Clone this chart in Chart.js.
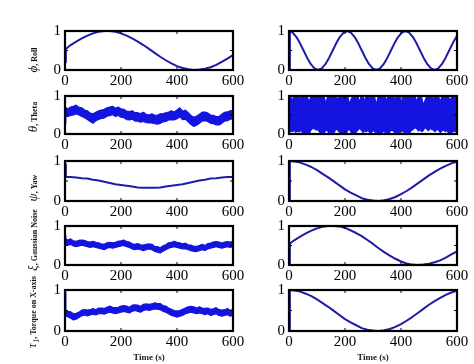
<!DOCTYPE html>
<html><head><meta charset="utf-8">
<script src="https://cdn.jsdelivr.net/npm/chart.js@4"></script>
<style>
html,body{margin:0;padding:0;background:#fff;}
#wrap{position:relative;width:474px;height:364px;overflow:hidden;background:#fff;}
.cell{position:absolute;}
.ylab{position:absolute;white-space:nowrap;transform:translate(-50%,-50%) rotate(-90deg);font-family:"Liberation Serif",serif;color:#111;line-height:1;}
.ylab .g{font-style:italic;font-size:13px;}
.ylab .t{font-size:8px;font-weight:bold;}
</style></head><body><div id="wrap"></div>
<script>
// ---- ticks ----
const xTicks = [0, 200, 400, 600];
const yTicks = [0, 0.5, 1];

// ---- sample times ----
const t20 = Array.from({length: 31}, (_, i) => i * 20);
const t13 = Array.from({length: 47}, (_, i) => i * 13).concat([600]);
const t10 = Array.from({length: 61}, (_, i) => i * 10);
const t6 = Array.from({length: 101}, (_, i) => i * 6);
const spikeTime = 3;

// ---- left column ----
const rollStart = 0.2;
const roll = [0.54,0.64,0.73,0.81,0.88,0.94,0.98,1.0,1.0,0.98,0.94,0.88,0.81,0.73,0.64,0.54,0.44,0.34,0.25,0.17,0.10,0.05,0.02,0.0,0.01,0.03,0.07,0.13,0.21,0.29,0.38];

const thetaStart = 0.28;
const thetaHi = [0.72,0.66,0.71,0.73,0.76,0.70,0.69,0.63,0.61,0.55,
  0.53,0.57,0.61,0.63,0.65,0.69,0.71,0.73,0.68,0.71,
  0.66,0.65,0.60,0.59,0.61,0.56,0.56,0.54,0.57,0.52,
  0.50,0.53,0.50,0.49,0.53,0.54,0.56,0.58,0.61,0.58,
  0.63,0.69,0.60,0.63,0.56,0.49,0.44,0.47,0.52,0.57,
  0.58,0.55,0.50,0.49,0.46,0.46,0.52,0.57,0.58,0.61,0.62];
const thetaLo = [0.47,0.46,0.49,0.50,0.53,0.50,0.46,0.43,0.38,0.33,
  0.28,0.35,0.38,0.41,0.42,0.47,0.48,0.51,0.46,0.49,
  0.44,0.43,0.38,0.37,0.39,0.34,0.34,0.31,0.33,0.30,
  0.29,0.29,0.27,0.26,0.28,0.32,0.33,0.37,0.38,0.37,
  0.40,0.45,0.38,0.39,0.32,0.25,0.20,0.23,0.28,0.34,
  0.35,0.33,0.28,0.27,0.24,0.24,0.28,0.34,0.35,0.39,0.40];

const yawStart = 0.92;
const yawL = [0.60,0.60,0.59,0.57,0.56,0.53,0.51,0.48,0.45,0.42,0.40,0.38,0.36,0.34,0.33,0.33,0.33,0.34,0.36,0.38,0.40,0.42,0.45,0.48,0.51,0.53,0.56,0.57,0.59,0.60,0.60];

const gaussStart = 0.76;
const gaussHi = [0.67,0.64,0.67,0.62,0.61,0.63,0.64,0.63,0.60,0.59,
  0.61,0.58,0.57,0.54,0.53,0.57,0.58,0.57,0.58,0.61,
  0.62,0.64,0.60,0.59,0.54,0.53,0.55,0.52,0.51,0.53,
  0.54,0.53,0.48,0.47,0.44,0.49,0.52,0.57,0.58,0.61,
  0.58,0.57,0.54,0.56,0.52,0.51,0.48,0.48,0.50,0.53,
  0.50,0.55,0.56,0.59,0.60,0.59,0.56,0.59,0.60,0.59,0.61];
const gaussLo = [0.51,0.51,0.53,0.49,0.47,0.49,0.51,0.49,0.47,0.45,
  0.47,0.45,0.43,0.41,0.39,0.43,0.45,0.43,0.45,0.47,
  0.49,0.50,0.47,0.45,0.41,0.39,0.41,0.39,0.37,0.39,
  0.41,0.39,0.35,0.33,0.31,0.35,0.39,0.43,0.45,0.47,
  0.45,0.43,0.41,0.42,0.39,0.37,0.35,0.34,0.37,0.39,
  0.37,0.41,0.43,0.45,0.47,0.45,0.43,0.45,0.47,0.45,0.47];

const torqueStart = 0.95;
const torqueHi = [0.51,0.48,0.47,0.42,0.43,0.46,0.51,0.52,0.51,0.52,
  0.55,0.52,0.56,0.56,0.55,0.58,0.61,0.58,0.57,0.58,
  0.61,0.62,0.61,0.58,0.63,0.64,0.63,0.60,0.65,0.66,
  0.65,0.66,0.69,0.67,0.67,0.62,0.61,0.56,0.53,0.50,
  0.49,0.50,0.53,0.56,0.59,0.60,0.59,0.56,0.59,0.56,
  0.55,0.56,0.53,0.54,0.57,0.52,0.51,0.52,0.55,0.50,0.53];
const torqueLo = [0.36,0.35,0.31,0.27,0.29,0.33,0.37,0.39,0.37,0.39,
  0.41,0.39,0.42,0.43,0.41,0.44,0.46,0.44,0.42,0.44,
  0.46,0.48,0.46,0.44,0.48,0.50,0.48,0.46,0.50,0.52,
  0.50,0.52,0.54,0.53,0.52,0.48,0.46,0.42,0.38,0.36,
  0.34,0.36,0.38,0.42,0.44,0.46,0.44,0.42,0.44,0.42,
  0.40,0.42,0.38,0.40,0.42,0.38,0.36,0.38,0.40,0.36,0.38];

// ---- right column ----
const wave1Start = 0.0;
const wave1 = [1,0.96,0.85,0.69,0.5,0.31,0.15,0.04,0,0.04,0.15,0.31,0.5,0.69,0.85,0.96,
  1,0.96,0.85,0.69,0.5,0.31,0.15,0.04,0,0.04,0.15,0.31,0.5,0.69,0.85,0.96,
  1,0.96,0.85,0.69,0.5,0.31,0.15,0.04,0,0.04,0.15,0.31,0.5,0.69,0.85,0.87];

const noiseHi = [1,0.98,0.88,1,0.97,1,0.92,1,0.99,1,
  1,0.96,0.84,1,0.98,1,1,0.94,1,0.99,
  1,0.97,0.8,1,1,0.95,1,0.98,1,0.9,
  1,1,0.96,1,0.99,1,0.78,0.92,1,0.97,
  1,1,0.84,1,0.98,0.88,1,1,0.93,1,
  1,0.97,0.76,1,0.99,1,0.96,1,0.88,1,
  1,0.98,1,0.9,1,1,0.95,0.84,1,1,
  0.97,1,0.92,1,1,0.98,0.86,1,1,0.96,
  0.76,0.88,1,1,0.97,1,0.92,1,0.99,1,
  0.84,1,1,0.95,1,0.97,0.88,1,1,0.98,1];
const noiseLo = [0.02,0.08,0.06,0.1,0.04,0.08,0.05,0.1,0.03,0.02,
  0,0.04,0,0.1,0.14,0.15,0.1,0.12,0.06,0.02,
  0,0.03,0.1,0.08,0,0.02,0,0.05,0.13,0.1,
  0.04,0,0.02,0.06,0,0.1,0.12,0.04,0.02,0,
  0.05,0.1,0.15,0.1,0.04,0.08,0.06,0.1,0.04,0.02,
  0.1,0.06,0.03,0,0.02,0,0.08,0.05,0.02,0,
  0.06,0.1,0.08,0.04,0,0.02,0.05,0.1,0.06,0.03,
  0.02,0,0.04,0.1,0.12,0.17,0.14,0.08,0.11,0.06,
  0.1,0.17,0.13,0.08,0.15,0.12,0.1,0.06,0.12,0.1,
  0.04,0.08,0.11,0.06,0.1,0.02,0,0.04,0.08,0.06,0.04];

const yawRStart = 0.0;
const yawR = [1.0,0.99,0.96,0.91,0.85,0.77,0.68,0.59,0.49,0.39,0.29,0.21,0.14,0.07,0.03,0.01,0.0,0.02,0.05,0.10,0.17,0.25,0.34,0.44,0.54,0.64,0.73,0.81,0.88,0.94,0.98];

const wave4Start = 0.0;
const wave4 = [0.55,0.64,0.73,0.81,0.88,0.94,0.98,1.0,1.0,0.99,0.95,0.89,0.82,0.74,0.64,0.54,0.43,0.33,0.24,0.16,0.09,0.04,0.01,0.0,0.01,0.03,0.07,0.12,0.19,0.27,0.35];

const wave5Start = 0.0;
const wave5 = [1.0,0.99,0.96,0.91,0.85,0.77,0.68,0.59,0.49,0.39,0.29,0.21,0.14,0.07,0.03,0.01,0.0,0.02,0.05,0.10,0.17,0.25,0.34,0.44,0.54,0.64,0.73,0.81,0.88,0.94,0.98];

const DARK = '#1c1ca6';
const BRIGHT = '#1414e0';

// ---- helpers to assemble datasets from arrays ----
function smooth(times, vals, start) {
  const pts = [{x: 0, y: start}];
  vals.forEach((v, i) => pts.push({x: i === 0 ? spikeTime : times[i], y: v}));
  return [{data: pts, borderColor: DARK, borderWidth: 2, pointRadius: 0, tension: 0, borderJoinStyle: 'round', fill: false}];
}
function band(times, hi, lo, start) {
  const hiPts = [], loPts = [];
  const hasStart = start !== null;
  if (hasStart) {
    hiPts.push({x: 0, y: Math.max(start, hi[0])});
    loPts.push({x: 0, y: Math.min(start, lo[0])});
  }
  hi.forEach((v, i) => {
    const x = (i === 0 && hasStart) ? spikeTime : times[i];
    hiPts.push({x, y: v});
    loPts.push({x, y: lo[i]});
  });
  const common = {borderColor: BRIGHT, borderWidth: 1.2, pointRadius: 0, tension: 0,
    borderJoinStyle: 'bevel', backgroundColor: BRIGHT};
  return [
    Object.assign({data: hiPts, fill: '+1'}, common),
    Object.assign({data: loPts, fill: false}, common)
  ];
}

const framePlugin = {
  id: 'frame',
  afterDatasetsDraw(chart) {
    const {ctx, chartArea: a, scales: {x, y}} = chart;
    ctx.save();
    ctx.strokeStyle = '#000';
    ctx.lineWidth = 1;
    ctx.beginPath();
    xTicks.forEach(v => {
      const px = x.getPixelForValue(v);
      ctx.moveTo(px, a.bottom); ctx.lineTo(px, a.bottom - 3);
      ctx.moveTo(px, a.top); ctx.lineTo(px, a.top + 3);
    });
    yTicks.forEach(v => {
      const py = y.getPixelForValue(v);
      ctx.moveTo(a.left, py); ctx.lineTo(a.left + 3, py);
      ctx.moveTo(a.right, py); ctx.lineTo(a.right - 3, py);
    });
    ctx.stroke();
    ctx.lineWidth = 2.2;
    ctx.strokeRect(a.left, a.top, a.right - a.left, a.bottom - a.top);
    ctx.restore();
  }
};

const cols = [
  {left: 0, width: 250, axisLeft: 65, axisRight: 233},
  {left: 250, width: 224, axisLeft: 289, axisRight: 457}
];
const rows = [[28, 70], [93, 134], [158, 201], [223, 265], [287, 331]];
const wrap = document.getElementById('wrap');
const FONT = '"Liberation Serif", "Times New Roman", serif';

function build(col, row, datasets) {
  const c = cols[col];
  const [top, bot] = rows[row];
  const isBottom = row === 4;
  const cy = top - 10;
  const h = isBottom ? 364 - cy : bot + 22 - cy;
  const div = document.createElement('div');
  div.className = 'cell';
  div.style.left = c.left + 'px';
  div.style.top = cy + 'px';
  div.style.width = c.width + 'px';
  div.style.height = h + 'px';
  const cv = document.createElement('canvas');
  cv.width = c.width; cv.height = h;
  cv.style.width = c.width + 'px'; cv.style.height = h + 'px';
  div.appendChild(cv);
  wrap.appendChild(div);
  new Chart(cv, {
    type: 'line',
    data: {datasets},
    options: {
      responsive: false, animation: false, devicePixelRatio: 1,
      layout: {padding: {top: 10, right: (c.left + c.width) - c.axisRight, left: 0, bottom: 0}},
      plugins: {legend: {display: false}, tooltip: {enabled: false}, filler: {propagate: false}},
      scales: {
        x: {
          type: 'linear', min: 0, max: 600,
          afterBuildTicks: s => { s.ticks = xTicks.map(v => ({value: v})); },
          ticks: {font: {family: FONT, size: 15}, color: '#000', padding: 2, maxRotation: 0, autoSkip: false,
                  callback: v => String(v)},
          grid: {display: false, drawTicks: false}, border: {display: false},
          title: isBottom ? {display: true, text: 'Time (s)', font: {family: FONT, size: 9, weight: 'bold'}, color: '#222', padding: {top: 0, bottom: 1}} : {display: false},
          afterFit: s => { s.height = h - (bot - cy); }
        },
        y: {
          min: 0, max: 1,
          afterBuildTicks: s => { s.ticks = yTicks.map(v => ({value: v})); },
          ticks: {font: {family: FONT, size: 15}, color: '#000', padding: 4, callback: v => String(v)},
          grid: {display: false, drawTicks: false}, border: {display: false},
          afterFit: s => { s.width = c.axisLeft - c.left; }
        }
      }
    },
    plugins: [framePlugin]
  });
}

build(0, 0, smooth(t20, roll, rollStart));
build(0, 1, band(t10, thetaHi, thetaLo, thetaStart));
build(0, 2, smooth(t20, yawL, yawStart));
build(0, 3, band(t10, gaussHi, gaussLo, gaussStart));
build(0, 4, band(t10, torqueHi, torqueLo, torqueStart));

build(1, 0, smooth(t13, wave1, wave1Start));
build(1, 1, band(t6, noiseHi, noiseLo, null));
build(1, 2, smooth(t20, yawR, yawRStart));
build(1, 3, smooth(t20, wave4, wave4Start));
build(1, 4, smooth(t20, wave5, wave5Start));

// ---- y-axis titles (left column) ----
const yTitles = [
  {g: 'ϕ', t: ', Roll', cx: 32, cy: 60},
  {g: 'θ', t: ', Theta', cx: 32, cy: 117},
  {g: 'ψ', t: ', Yaw', cx: 32, cy: 188},
  {g: 'ξ', t: ', Gaussian Noise', cx: 32, cy: 240},
  {g: 'τ₁', t: ', Torque on X-axis', cx: 31, cy: 312}
];
yTitles.forEach(o => {
  const d = document.createElement('div');
  d.className = 'ylab';
  d.style.left = o.cx + 'px';
  d.style.top = o.cy + 'px';
  d.innerHTML = '<span class="g">' + o.g + '</span><span class="t">' + o.t + '</span>';
  wrap.appendChild(d);
});
</script></body></html>
